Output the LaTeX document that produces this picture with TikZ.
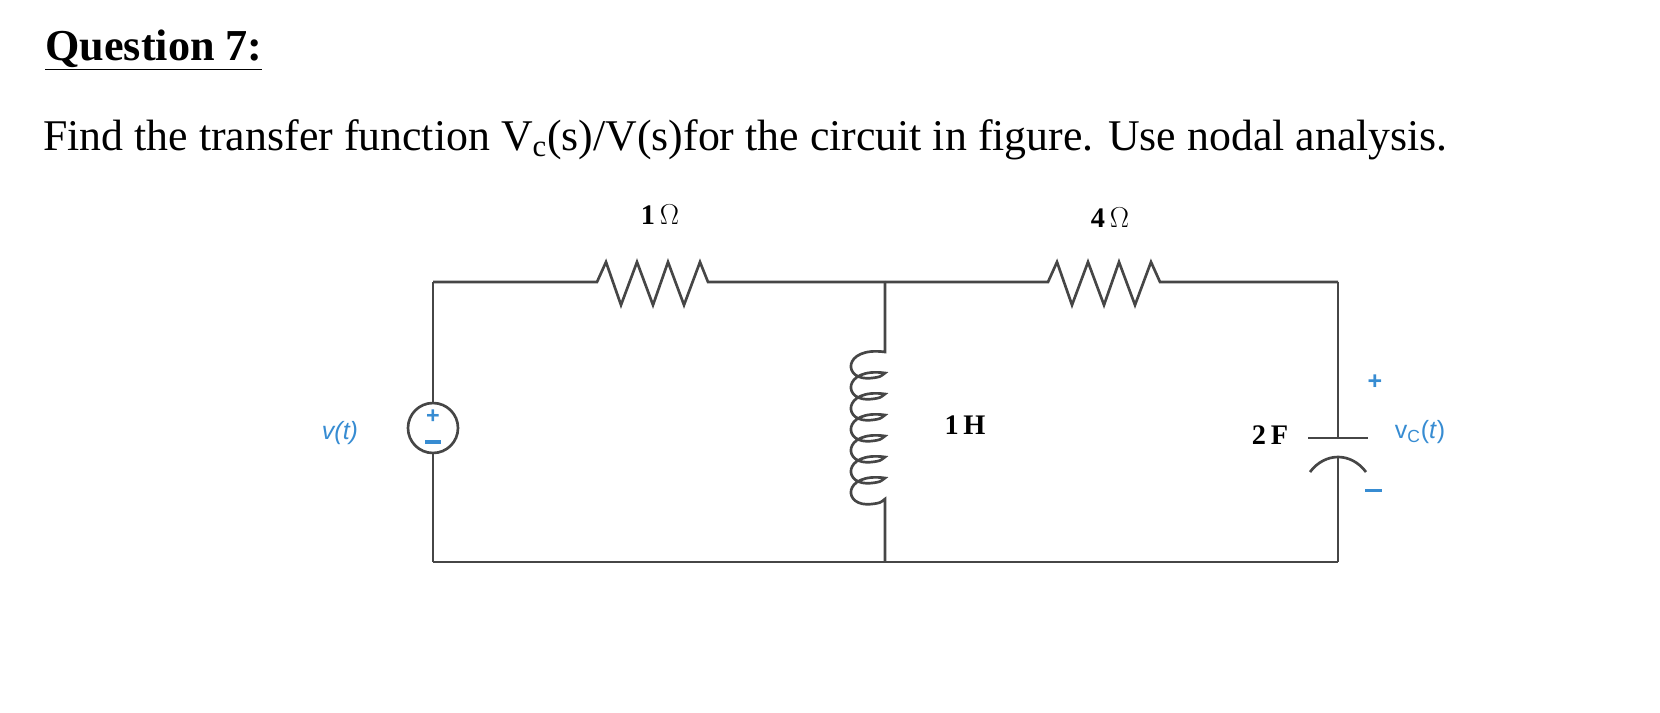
\documentclass[tikz,border=0pt]{standalone}
\usepackage{fontspec}
\setmainfont{Liberation Serif}
\newfontfamily\sansf{Liberation Sans}
\definecolor{lblue}{RGB}{55,140,210}
\definecolor{wire}{RGB}{70,70,70}
\begin{document}
\begin{tikzpicture}[x=0.6pt,y=-0.6pt,
  w/.style={draw=wire,line width=1.6pt},
  lab/.style={font=\fontsize{17}{20}\selectfont\bfseries,inner sep=0pt},
  blab/.style={text=lblue,font=\sansf\fontsize{15}{18}\selectfont,inner sep=0pt}]
\node[anchor=base west,inner sep=0pt,font=\fontsize{26.5}{30}\selectfont\bfseries] (q) at (45,60) {\underline{Question 7:}};
\node[anchor=base west,inner sep=0pt,font=\fontsize{26.3}{32}\selectfont] (t) at (43,150) {Find the transfer function V\textsubscript{c}(s)/V(s)for the circuit in figure. Use nodal analysis.};
% nodes
\coordinate (tl) at (433,282); \coordinate (bl) at (433,562);
\coordinate (tm) at (885,282); \coordinate (bm) at (885,562);
\coordinate (tr) at (1338,282); \coordinate (br) at (1338,562);
\node[circle,w,minimum size=30pt,inner sep=0pt] (src) at (433,428) {};
\node[text=lblue,font=\sansf\bfseries\fontsize{14}{14}\selectfont,inner sep=0pt] at (433,417) {+};
\draw[lblue,line width=2.2pt] (425,442) -- (441,442);
\draw[w] (tl) -- (src.north); \draw[w] (src.south) -- (bl);
% R1
\draw[w] (tl) -- (597,282) -- (606,262) -- (621,305) -- (637,262) -- (653,305) -- (668,262) -- (684,305) -- (700,262) -- (708,282) -- (tm);
% R2
\draw[w] (tm) -- (1048,282) -- (1057,262) -- (1072,305) -- (1088,262) -- (1104,305) -- (1119,262) -- (1135,305) -- (1151,262) -- (1160,282) -- (tr);
% inductor
\draw[w] (tm) -- (885,352)
  \foreach \k in {0,...,6}{ .. controls (842,352+21*\k-6) and (842,352+21*\k+30) .. (872,352+21*\k+26) .. controls (880,352+21*\k+25) .. (885,352+21*\k+21) }
  -- (885,510) -- (bm);
% capacitor
\draw[w] (tr) -- (1338,438);
\draw[w] (1308,438) -- (1368,438);
\draw[w] (1310,472) .. controls (1325,452) and (1351,452) .. (1366,472);
\draw[w] (1338,457) -- (br);
\draw[w] (bl) -- (br);
% labels
\node[lab] at (660,215) {1\,$\Omega$};
\node[lab] at (1110,218) {4\,$\Omega$};
\node[lab] at (965,425) {1\,H};
\node[lab] at (1270,435) {2\,F};
\node[blab] at (340,433) {\itshape v(t)};
\node[blab] at (1420,432) {v\textsubscript{C}(\textit{t})};
\node[text=lblue,font=\sansf\bfseries\fontsize{15}{15}\selectfont,inner sep=0pt] at (1375,382) {+};
\draw[lblue,line width=1.8pt] (1365,490) -- (1382,490);
\pgfresetboundingbox
\useasboundingbox (0,0) rectangle (1660,712);
\end{tikzpicture}
\end{document}
